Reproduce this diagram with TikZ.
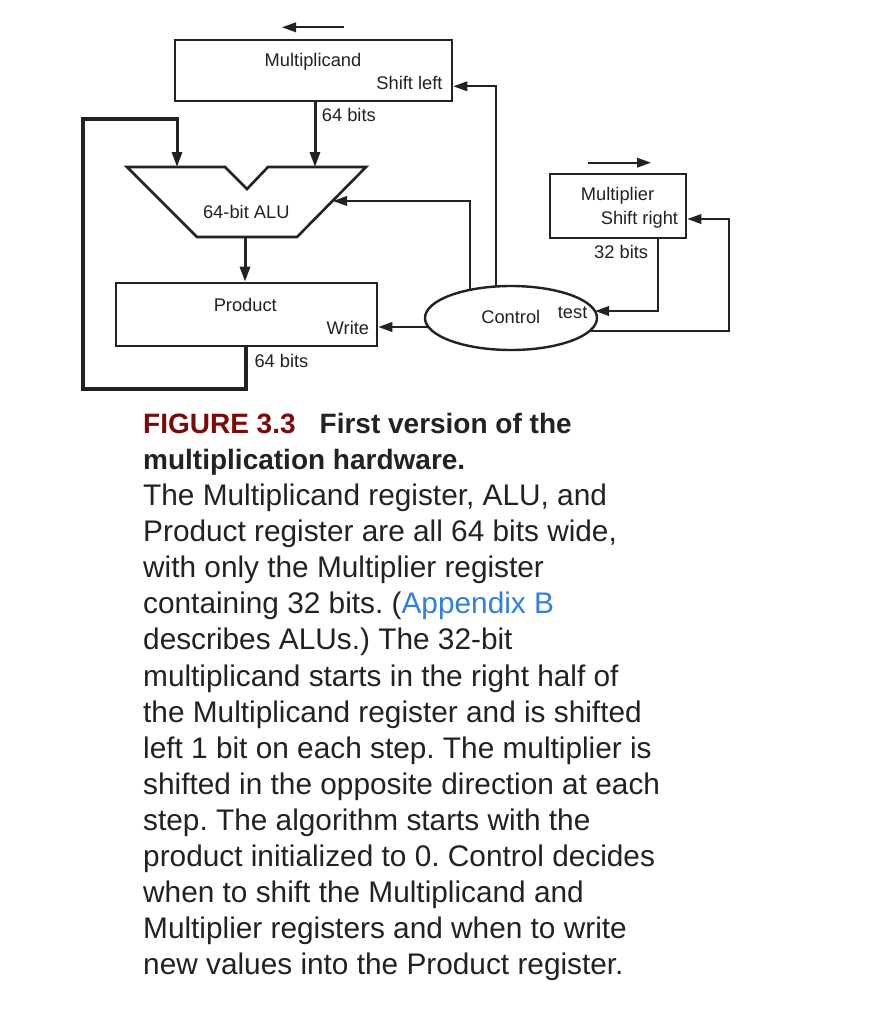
\documentclass[tikz,border=0pt]{standalone}
\usepackage{fontspec}
\setmainfont{Liberation Sans}
\usetikzlibrary{arrows.meta,shapes.geometric,calc}
\pgfdeclarelayer{background}
\pgfsetlayers{background,main}
\definecolor{ink}{HTML}{222222}
\definecolor{figred}{HTML}{7A0A0A}
\definecolor{linkblue}{HTML}{2F7FE0}
\frenchspacing
\tikzset{
  lbl/.style={font=\fontsize{18.3}{22}\selectfont, text=ink, inner sep=0pt},
  reg/.style={draw=ink, line width=2.6pt, fill=white, inner sep=0pt},
  data/.style={draw=ink, line width=3pt, -{Triangle[length=15pt,width=10pt]}},
  loopline/.style={draw=ink, line width=3.2pt},
  ctl/.style={draw=ink, line width=2pt, -{Triangle[length=14pt,width=9.5pt]}},
  captxt/.style={font=\fontsize{29.8}{36}\selectfont, text=ink, anchor=base west, inner sep=0pt},
  captitle/.style={font=\fontsize{28}{36}\selectfont\bfseries, text=ink, anchor=base west, inner sep=0pt}
}
\begin{document}
\begin{tikzpicture}[x=1pt,y=-1pt]
\useasboundingbox (0,0) rectangle (876,1010);

% registers
\node[reg, minimum width=277pt, minimum height=61pt] (mcand) at (313.5,70.5) {};
\node[reg, minimum width=261pt, minimum height=63pt] (prod) at (246.5,314.5) {};
\node[reg, minimum width=136pt, minimum height=64pt] (mplier) at (618,206) {};
\node[reg, ellipse, minimum width=172pt, minimum height=64pt, line width=2.4pt] (ctrl) at (511,318) {};

% ALU
\draw[ink, line width=2.6pt, fill=white, line join=miter]
  (127,167) coordinate (aluTL) -- (225,167) -- (247,189) -- (268,167) -- (366,167) coordinate (aluTR)
  -- (297,237) coordinate (aluBR) -- (197,237) coordinate (aluBL) -- cycle;
\coordinate (aluInL) at (177,167);
\coordinate (aluInR) at (315,167);
\coordinate (aluOut) at (245,237);
\coordinate (aluCtl) at (333,201);

% labels
\node[lbl, anchor=base] (tmc) at (313,66.7) {Multiplicand};
\node[lbl, anchor=base east] (tsl) at (442.7,89.3) {Shift left};
\node[lbl, anchor=base west] (t64a) at (321.7,121.7) {64 bits};
\node[lbl, anchor=base] (talu) at (246.3,218.3) {64-bit ALU};
\node[lbl, anchor=base] (tprod) at (245.3,311.7) {Product};
\node[lbl, anchor=base east] (twr) at (369.3,334) {Write};
\node[lbl, anchor=base west] (t64b) at (254.3,367.3) {64 bits};
\node[lbl, anchor=base] (tctl) at (510.8,323.3) {Control};
\node[lbl, anchor=base west] (ttest) at (557.7,318.3) {test};
\node[lbl, anchor=base] (tmp) at (617.5,200) {Multiplier};
\node[lbl, anchor=base east] (tsr) at (678.3,224.3) {Shift right};
\node[lbl, anchor=base west] (t32) at (594,258.3) {32 bits};

% direction arrows
\coordinate (dlA) at (344,27.3);
\coordinate (dlB) at (282,27.3);
\draw[ctl] (dlA) -- (dlB);
\coordinate (drA) at (588,162.7);
\coordinate (drB) at (651,162.7);
\draw[ctl] (drA) -- (drB);

\begin{pgfonlayer}{background}
\fill[white] (0,0) rectangle (876,1010);
% data paths
\draw[data] (aluInR |- mcand.south) -- (aluInR);
\draw[data] (aluOut) -- (aluOut |- prod.north);
\coordinate (fbB) at (246,389);
\coordinate (fbC) at (83,389);
\coordinate (fbD) at (83,119);
\coordinate (fbE) at (177,119);
\draw[loopline, line join=miter] (fbB |- prod.south) -- (fbB) -- (fbC) -- (fbD) -- (fbE) -- ($(fbE)+(0,1.7)$);
\draw[data] (fbE) -- (aluInL);
% control paths
\draw[ctl] ($(ctrl.center)+(0,9)$) -- (prod.east |- 0,327);
\draw[ctl] ($(ctrl.center)+(-41,0)$) |- (aluCtl);
\draw[ctl] ($(ctrl.center)+(-15,0)$) |- ($(mcand.south east)+(0,-16)$);
\coordinate (m32) at ($(mplier.south west)+(109,0)$);
\draw[ctl] (m32) |- (595,311);
\coordinate (srC) at (729,331);
\draw[ctl] ($(ctrl.center)+(0,13)$) -- (srC) |- ($(mplier.east)+(0,13)$);
\end{pgfonlayer}

% caption
\node[captitle] (c1) at (143,433.3) {\textcolor{figred}{FIGURE 3.3}\hspace{24pt}First version of the};
\node[captitle] (c2) at (143,469.4) {multiplication hardware.};
\node[captxt] (c3) at (143,505.5) {The Multiplicand register, ALU, and};
\node[captxt] (c4) at (143,541.6) {Product register are all 64 bits wide,};
\node[captxt] (c5) at (143,577.7) {with only the Multiplier register};
\node[captxt] (c6) at (143,613.8) {containing 32 bits. (\textcolor{linkblue}{Appendix B}};
\node[captxt] (c7) at (143,649.9) {describes ALUs.) The 32-bit};
\node[captxt] (c8) at (143,686.0) {multiplicand starts in the right half of};
\node[captxt] (c9) at (143,722.1) {the Multiplicand register and is shifted};
\node[captxt] (c10) at (143,758.2) {left 1 bit on each step. The multiplier is};
\node[captxt] (c11) at (143,794.3) {shifted in the opposite direction at each};
\node[captxt] (c12) at (143,830.4) {step. The algorithm starts with the};
\node[captxt] (c13) at (143,866.5) {product initialized to 0. Control decides};
\node[captxt] (c14) at (143,902.6) {when to shift the Multiplicand and};
\node[captxt] (c15) at (143,938.7) {Multiplier registers and when to write};
\node[captxt] (c16) at (143,974.8) {new values into the Product register.};
\end{tikzpicture}
\end{document}
